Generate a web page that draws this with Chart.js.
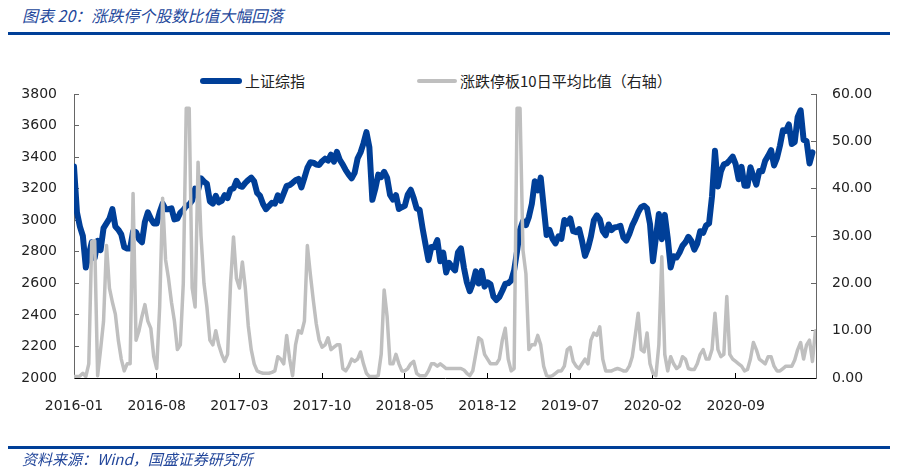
<!DOCTYPE html>
<html>
<head>
<meta charset="utf-8">
<script src="https://cdn.jsdelivr.net/npm/chart.js@4.4.0/dist/chart.umd.min.js"></script>
<style>
    html, body { margin: 0; padding: 0; background: #fff; }
    #wrap { position: relative; width: 898px; height: 476px; overflow: hidden; }
    #chart { position: absolute; left: 0; top: 0; }
    .rule { position: absolute; left: 8px; width: 882px; height: 3px; background: #003f98; }
    .title { position: absolute; left: 22px; top: 4px; font: italic 16px "Noto Sans CJK SC"; line-height: 22px; color: #23479b; }
    .source { position: absolute; left: 22px; top: 449px; font: italic 15px "Noto Sans CJK SC"; line-height: 20px; color: #23479b; }
    .legend-line { position: absolute; border-radius: 3px; }
    .legend-text { position: absolute; top: 72px; font: 15px "Noto Sans CJK SC"; line-height: 18px; color: #222; }
</style>
</head>
<body>
<div id="wrap">
    <div class="title">图表 20：涨跌停个股数比值大幅回落</div>
    <div class="rule" style="top:32px"></div>
    <div class="legend-line" style="left:200px; top:78px; width:42px; height:6px; background:#003f98"></div>
    <div class="legend-text" style="left:245px">上证综指</div>
    <div class="legend-line" style="left:417px; top:79px; width:40px; height:4px; background:#bfbfbf"></div>
    <div class="legend-text" style="left:460px">涨跌停板10日平均比值（右轴）</div>
    <canvas id="chart" width="898" height="476"></canvas>
    <div class="rule" style="top:446px"></div>
    <div class="source">资料来源：Wind，国盛证券研究所</div>
</div>
<script>
// x tick labels, one every 7 months starting 2016-01
const xTickLabels = ["2016-01", "2016-08", "2017-03", "2017-10", "2018-05", "2018-12", "2019-07", "2020-02", "2020-09"];

// 上证综指, four readings per month (2016-01 .. 2021-03)
const shIndex = [
    // 2016
    3340, 3050, 2960, 2900, 2700, 2780, 2860, 2760, 2870, 2810, 2950, 2980,
    3010, 3070, 2960, 2940, 2910, 2830, 2820, 2820, 2930, 2925, 2880, 2860,
    2990, 3050, 3010, 2980, 2980, 3050, 3105, 3070, 3070, 3075, 3005, 3010,
    3048, 3065, 3090, 3100, 3125, 3200, 3190, 3265, 3245, 3230, 3120, 3105,
    // 2017
    3155, 3113, 3123, 3159, 3140, 3196, 3202, 3250, 3218, 3212, 3237, 3255,
    3270, 3246, 3173, 3154, 3103, 3070, 3090, 3110, 3105, 3158, 3123, 3170,
    3217, 3222, 3237, 3253, 3262, 3208, 3268, 3331, 3367, 3365, 3353, 3350,
    3374, 3390, 3378, 3416, 3371, 3433, 3382, 3353, 3317, 3289, 3266, 3300,
    // 2018
    3391, 3429, 3487, 3558, 3462, 3129, 3199, 3289, 3273, 3307, 3269, 3160,
    3131, 3159, 3071, 3082, 3091, 3163, 3193, 3141, 3075, 3067, 2950, 2847,
    2747, 2831, 2829, 2874, 2740, 2795, 2669, 2730, 2702, 2682, 2797, 2821,
    2700, 2606, 2550, 2599, 2676, 2599, 2679, 2579, 2606, 2594, 2516, 2494,
    // 2019
    2514, 2553, 2596, 2601, 2618, 2682, 2804, 2940, 2994, 2969, 3021, 3104,
    3247, 3189, 3270, 3086, 2906, 2939, 2882, 2853, 2898, 2882, 3001, 2979,
    3011, 2930, 2924, 2944, 2868, 2774, 2823, 2897, 2999, 3031, 3006, 2932,
    2905, 2973, 2938, 2954, 2958, 2964, 2891, 2871, 2912, 2967, 3005, 3050,
    // 2020
    3083, 3092, 3075, 2976, 2740, 2890, 3040, 2880, 3034, 2887, 2700, 2772,
    2764, 2796, 2838, 2860, 2895, 2868, 2814, 2852, 2930, 2920, 2967, 2980,
    3152, 3440, 3214, 3310, 3354, 3360, 3380, 3403, 3355, 3260, 3338, 3219,
    3218, 3336, 3278, 3225, 3312, 3310, 3377, 3408, 3444, 3347, 3395, 3473,
    // 2021
    3570, 3566, 3607, 3483, 3496, 3655, 3697, 3509, 3502, 3360, 3430
];

// 涨跌停板10日平均比值, same sampling (right axis)
const limitRatio = [
    // 2016
    0.3, 0.3, 0.4, 1.0, 0.3, 3, 28.8, 29, 0.5, 6, 12, 28,
    19, 16, 13.5, 8, 4, 1.5, 3, 3, 39, 8, 10, 13,
    15.5, 12, 10.5, 4.5, 2, 15, 38, 25, 21, 16, 12, 6,
    7, 20, 57, 57, 19, 15, 45.6, 30, 20, 15, 8, 7,
    // 2017
    10, 7, 5, 3.5, 5, 20, 29.8, 21, 19, 24.5, 19, 11,
    6, 3, 1.5, 1.2, 1, 1, 1, 1.2, 1.5, 4.5, 4, 3,
    9, 4, 0.5, 7, 10, 9.5, 12, 28, 22, 16.5, 11.5, 8,
    6.5, 7, 8.5, 6, 6.5, 7, 7, 2, 1.5, 2.5, 4, 3.5,
    // 2018
    4, 5.5, 3, 1, 0.3, 0.3, 0.3, 0.5, 5, 18.6, 13, 3,
    3, 5, 3, 1.5, 1.5, 2, 3, 3.5, 1, 0.5, 0.5, 0.5,
    1.5, 3, 3, 2.5, 3, 2.5, 2, 2, 2, 2, 2, 2,
    1.7, 1, 0.5, 1.5, 5, 8.5, 8, 5, 4, 3, 3, 3,
    // 2019
    4, 8, 10.5, 4, 1.5, 2, 57, 57, 27, 22, 6, 7,
    7, 9, 7, 2.5, 0.5, 0.3, 0.5, 1, 1.5, 1.5, 2.5, 6,
    6.5, 3.5, 2.5, 2, 3, 4, 3, 8, 9.5, 9, 10.8, 4,
    1.5, 1.5, 1.5, 1.8, 2, 1.8, 1.5, 1.5, 2.5, 4.5, 9, 13.7,
    // 2020
    6, 5.5, 9.5, 3, 1, 0.5, 7, 25.6, 5, 1.5, 4.5, 3,
    2, 2.5, 4.5, 4, 2, 1.8, 1.8, 3, 5, 6, 4, 4,
    6, 13.7, 6, 4.5, 5, 17.2, 5, 4, 3.5, 3, 2.5, 1.5,
    1.8, 4, 7.5, 6, 4, 3.5, 3, 4.5, 4.5, 2.5, 1.5, 1.5,
    // 2021
    2, 2.5, 2.5, 2.5, 3.8, 6, 7.5, 4, 7, 8, 3.5, 10
];

const toPoints = (arr) => arr.map((v, i) => ({ x: i / 4, y: v }));

const tickFont = { family: "DejaVu Sans", size: 14 };

new Chart(document.getElementById("chart").getContext("2d"), {
    type: "line",
    data: {
        datasets: [
            {
                label: "上证综指",
                data: toPoints(shIndex),
                yAxisID: "y",
                borderColor: "#003f98",
                borderWidth: 6,
                borderJoinStyle: "round",
                borderCapStyle: "round",
                pointRadius: 0,
                tension: 0,
                order: 2,
            },
            {
                label: "涨跌停板10日平均比值（右轴）",
                data: toPoints(limitRatio),
                yAxisID: "y1",
                borderColor: "#bfbfbf",
                borderWidth: 3.5,
                borderJoinStyle: "round",
                borderCapStyle: "round",
                pointRadius: 0,
                tension: 0,
                order: 1,
            },
        ],
    },
    options: {
        responsive: false,
        animation: false,
        devicePixelRatio: 1,
        layout: { padding: { top: 94, left: 0, right: 0, bottom: 0 } },
        plugins: {
            legend: { display: false },
            tooltip: { enabled: false },
        },
        scales: {
            x: {
                type: "linear",
                min: 0,
                max: 62.8,
                afterBuildTicks: (scale) => {
                    scale.ticks = xTickLabels.map((_, k) => ({ value: k * 7 }));
                },
                afterFit: (scale) => { scale.height = 98; },
                ticks: {
                    callback: (value) => xTickLabels[Math.round(value / 7)],
                    font: tickFont,
                    color: "#222",
                    padding: 25,
                    maxRotation: 0,
                    autoSkip: false,
                },
                grid: { drawOnChartArea: false, drawTicks: true, tickLength: -5, color: "#000" },
                border: { color: "#000", width: 1 },
            },
            y: {
                position: "left",
                min: 2000,
                max: 3800,
                afterFit: (scale) => { scale.width = 74; },
                ticks: {
                    stepSize: 200,
                    font: tickFont,
                    color: "#222",
                    padding: 22,
                    callback: (v) => String(v),
                },
                grid: { drawOnChartArea: false, drawTicks: true, tickLength: -5, color: "#666" },
                border: { color: "#666", width: 1 },
            },
            y1: {
                position: "right",
                min: 0,
                max: 60,
                afterFit: (scale) => { scale.width = 82; },
                ticks: {
                    stepSize: 10,
                    font: tickFont,
                    color: "#222",
                    padding: 21,
                    callback: (v) => v.toFixed(2),
                },
                grid: { drawOnChartArea: false, drawTicks: true, tickLength: -5, color: "#666" },
                border: { color: "#666", width: 1 },
            },
        },
    },
});
</script>
</body>
</html>
